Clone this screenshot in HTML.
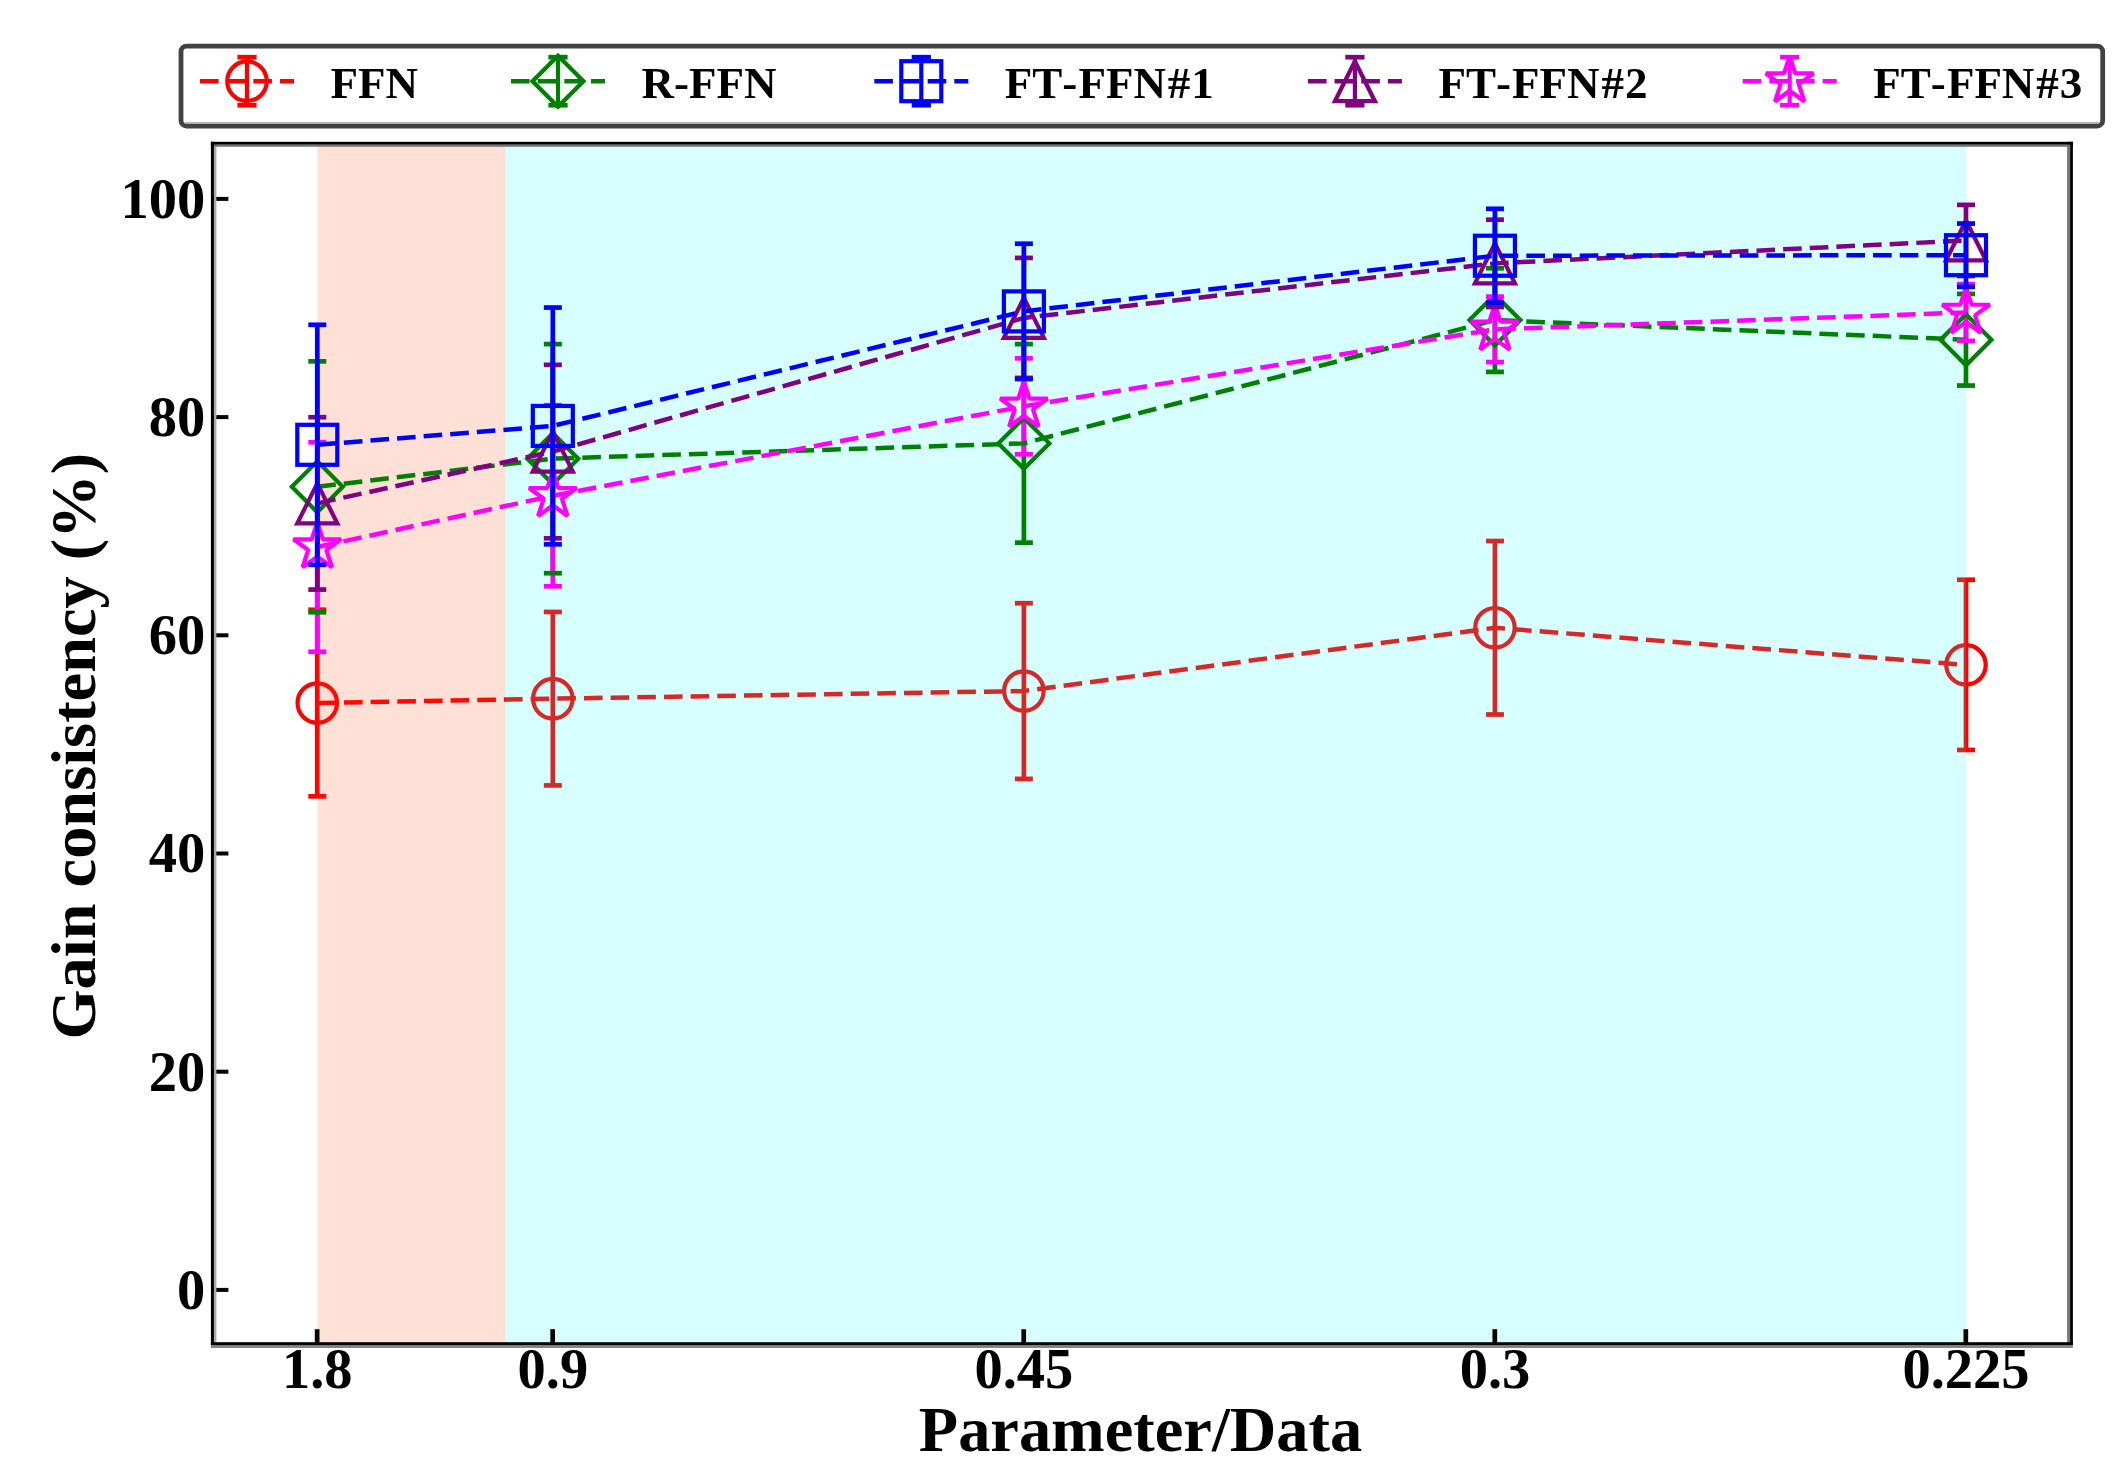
<!DOCTYPE html>
<html lang="en"><head><meta charset="utf-8"><title>Gain consistency vs Parameter/Data</title>
<style>
html,body{margin:0;padding:0;background:#fff;}
body{width:2122px;height:1479px;overflow:hidden;}
svg{display:block;filter:blur(0.6px);}
text{font-kerning:none;}
</style></head><body>
<svg width="2122" height="1479" viewBox="0 0 2122 1479" font-family="'Liberation Serif', 'Times New Roman', serif" font-weight="bold" fill="#000"><rect x="0" y="0" width="2122" height="1479" fill="#fff"/>
<g id="data">
<g stroke="#ff0000" stroke-width="4.7"><line x1="317.3" y1="609.76" x2="317.3" y2="796.32"/><line x1="552.83" y1="611.94" x2="552.83" y2="785.41"/><line x1="1023.88" y1="603.22" x2="1023.88" y2="778.87"/><line x1="1494.94" y1="541.03" x2="1494.94" y2="714.5"/><line x1="1965.99" y1="579.76" x2="1965.99" y2="749.96"/></g><polyline points="317.3,703.04 552.83,698.68 1023.88,691.04 1494.94,627.76 1965.99,664.86" fill="none" stroke="#ff0000" stroke-width="4.5" stroke-dasharray="18.62 8.05"/><circle cx="317.3" cy="703.04" r="19.75" fill="none" stroke="#ff0000" stroke-width="4.2"/><circle cx="552.83" cy="698.68" r="19.75" fill="none" stroke="#ff0000" stroke-width="4.2"/><circle cx="1023.88" cy="691.04" r="19.75" fill="none" stroke="#ff0000" stroke-width="4.2"/><circle cx="1494.94" cy="627.76" r="19.75" fill="none" stroke="#ff0000" stroke-width="4.2"/><circle cx="1965.99" cy="664.86" r="19.75" fill="none" stroke="#ff0000" stroke-width="4.2"/><g stroke="#ff0000" stroke-width="4.7"><line x1="308.3" y1="609.76" x2="326.3" y2="609.76"/><line x1="308.3" y1="796.32" x2="326.3" y2="796.32"/><line x1="543.83" y1="611.94" x2="561.83" y2="611.94"/><line x1="543.83" y1="785.41" x2="561.83" y2="785.41"/><line x1="1014.88" y1="603.22" x2="1032.88" y2="603.22"/><line x1="1014.88" y1="778.87" x2="1032.88" y2="778.87"/><line x1="1485.94" y1="541.03" x2="1503.94" y2="541.03"/><line x1="1485.94" y1="714.5" x2="1503.94" y2="714.5"/><line x1="1956.99" y1="579.76" x2="1974.99" y2="579.76"/><line x1="1956.99" y1="749.96" x2="1974.99" y2="749.96"/></g>
</g>
<rect x="317.3" y="144" width="188.1" height="1200.3" fill="#ff3c00" fill-opacity="0.155"/>
<rect x="505.4" y="144" width="1460.6" height="1200.3" fill="#00ffff" fill-opacity="0.155"/>
<g id="data2">
<g stroke="#008000" stroke-width="4.7"><line x1="317.3" y1="361.34" x2="317.3" y2="612.27"/><line x1="552.83" y1="344.1" x2="552.83" y2="573.21"/><line x1="1023.88" y1="344.1" x2="1023.88" y2="542.66"/><line x1="1494.94" y1="268.28" x2="1494.94" y2="371.92"/><line x1="1965.99" y1="293.92" x2="1965.99" y2="385.56"/></g><g stroke="#ff00ff" stroke-width="4.7"><line x1="317.3" y1="442.29" x2="317.3" y2="651.77"/><line x1="552.83" y1="405.2" x2="552.83" y2="586.3"/><line x1="1023.88" y1="358.29" x2="1023.88" y2="454.29"/><line x1="1494.94" y1="296.64" x2="1494.94" y2="362.1"/><line x1="1965.99" y1="284.1" x2="1965.99" y2="340.83"/></g><g stroke="#800080" stroke-width="4.7"><line x1="317.3" y1="417.2" x2="317.3" y2="589.58"/><line x1="552.83" y1="364.83" x2="552.83" y2="538.3"/><line x1="1023.88" y1="257.91" x2="1023.88" y2="377.92"/><line x1="1494.94" y1="219.73" x2="1494.94" y2="307.01"/><line x1="1965.99" y1="204.89" x2="1965.99" y2="276.02"/></g>
<polyline points="317.3,486.81 552.83,458.66 1023.88,443.38 1494.94,320.1 1965.99,339.74" fill="none" stroke="#008000" stroke-width="4.5" stroke-dasharray="18.62 8.05"/><polygon points="317.3,461.35 342.76,486.81 317.3,512.26 291.84,486.81" fill="none" stroke="#008000" stroke-width="4.2"/><polygon points="552.83,433.2 578.28,458.66 552.83,484.11 527.37,458.66" fill="none" stroke="#008000" stroke-width="4.2"/><polygon points="1023.88,417.93 1049.34,443.38 1023.88,468.84 998.43,443.38" fill="none" stroke="#008000" stroke-width="4.2"/><polygon points="1494.94,294.65 1520.39,320.1 1494.94,345.56 1469.48,320.1" fill="none" stroke="#008000" stroke-width="4.2"/><polygon points="1965.99,314.28 1991.45,339.74 1965.99,365.19 1940.54,339.74" fill="none" stroke="#008000" stroke-width="4.2"/><g stroke="#008000" stroke-width="4.7"><line x1="308.3" y1="361.34" x2="326.3" y2="361.34"/><line x1="308.3" y1="612.27" x2="326.3" y2="612.27"/><line x1="543.83" y1="344.1" x2="561.83" y2="344.1"/><line x1="543.83" y1="573.21" x2="561.83" y2="573.21"/><line x1="1014.88" y1="344.1" x2="1032.88" y2="344.1"/><line x1="1014.88" y1="542.66" x2="1032.88" y2="542.66"/><line x1="1485.94" y1="268.28" x2="1503.94" y2="268.28"/><line x1="1485.94" y1="371.92" x2="1503.94" y2="371.92"/><line x1="1956.99" y1="293.92" x2="1974.99" y2="293.92"/><line x1="1956.99" y1="385.56" x2="1974.99" y2="385.56"/></g>
<polyline points="317.3,547.03 552.83,495.75 1023.88,406.29 1494.94,329.37 1965.99,312.46" fill="none" stroke="#ff00ff" stroke-width="4.5" stroke-dasharray="18.62 8.05"/><polygon points="317.3,522.03 311.69,539.3 293.52,539.3 308.22,549.98 302.61,567.25 317.3,556.58 331.99,567.25 326.38,549.98 341.08,539.3 322.91,539.3" fill="none" stroke="#ff00ff" stroke-width="4.2" stroke-linejoin="bevel"/><polygon points="552.83,470.75 547.21,488.03 529.05,488.03 543.75,498.7 538.13,515.98 552.83,505.3 567.52,515.98 561.91,498.7 576.6,488.03 558.44,488.03" fill="none" stroke="#ff00ff" stroke-width="4.2" stroke-linejoin="bevel"/><polygon points="1023.88,381.29 1018.27,398.56 1000.11,398.56 1014.8,409.24 1009.19,426.52 1023.88,415.84 1038.58,426.52 1032.97,409.24 1047.66,398.56 1029.5,398.56" fill="none" stroke="#ff00ff" stroke-width="4.2" stroke-linejoin="bevel"/><polygon points="1494.94,304.37 1489.33,321.65 1471.16,321.65 1485.86,332.33 1480.24,349.6 1494.94,338.92 1509.63,349.6 1504.02,332.33 1518.72,321.65 1500.55,321.65" fill="none" stroke="#ff00ff" stroke-width="4.2" stroke-linejoin="bevel"/><polygon points="1965.99,287.46 1960.38,304.74 1942.22,304.74 1956.91,315.41 1951.3,332.69 1965.99,322.01 1980.69,332.69 1975.08,315.41 1989.77,304.74 1971.61,304.74" fill="none" stroke="#ff00ff" stroke-width="4.2" stroke-linejoin="bevel"/><g stroke="#ff00ff" stroke-width="4.7"><line x1="308.3" y1="442.29" x2="326.3" y2="442.29"/><line x1="308.3" y1="651.77" x2="326.3" y2="651.77"/><line x1="543.83" y1="405.2" x2="561.83" y2="405.2"/><line x1="543.83" y1="586.3" x2="561.83" y2="586.3"/><line x1="1014.88" y1="358.29" x2="1032.88" y2="358.29"/><line x1="1014.88" y1="454.29" x2="1032.88" y2="454.29"/><line x1="1485.94" y1="296.64" x2="1503.94" y2="296.64"/><line x1="1485.94" y1="362.1" x2="1503.94" y2="362.1"/><line x1="1956.99" y1="284.1" x2="1974.99" y2="284.1"/><line x1="1956.99" y1="340.83" x2="1974.99" y2="340.83"/></g>
<polyline points="317.3,503.39 552.83,451.57 1023.88,317.92 1494.94,263.37 1965.99,240.46" fill="none" stroke="#800080" stroke-width="4.5" stroke-dasharray="18.62 8.05"/><polygon points="317.3,483.39 297.3,523.39 337.3,523.39" fill="none" stroke="#800080" stroke-width="4.2"/><polygon points="552.83,431.57 532.83,471.57 572.83,471.57" fill="none" stroke="#800080" stroke-width="4.2"/><polygon points="1023.88,297.92 1003.88,337.92 1043.88,337.92" fill="none" stroke="#800080" stroke-width="4.2"/><polygon points="1494.94,243.37 1474.94,283.37 1514.94,283.37" fill="none" stroke="#800080" stroke-width="4.2"/><polygon points="1965.99,220.46 1945.99,260.46 1985.99,260.46" fill="none" stroke="#800080" stroke-width="4.2"/><g stroke="#800080" stroke-width="4.7"><line x1="308.3" y1="417.2" x2="326.3" y2="417.2"/><line x1="308.3" y1="589.58" x2="326.3" y2="589.58"/><line x1="543.83" y1="364.83" x2="561.83" y2="364.83"/><line x1="543.83" y1="538.3" x2="561.83" y2="538.3"/><line x1="1014.88" y1="257.91" x2="1032.88" y2="257.91"/><line x1="1014.88" y1="377.92" x2="1032.88" y2="377.92"/><line x1="1485.94" y1="219.73" x2="1503.94" y2="219.73"/><line x1="1485.94" y1="307.01" x2="1503.94" y2="307.01"/><line x1="1956.99" y1="204.89" x2="1974.99" y2="204.89"/><line x1="1956.99" y1="276.02" x2="1974.99" y2="276.02"/></g>
<g stroke="#0000ff" stroke-width="4.7"><line x1="317.3" y1="324.79" x2="317.3" y2="564.81"/><line x1="552.83" y1="307.55" x2="552.83" y2="544.3"/><line x1="1023.88" y1="243.73" x2="1023.88" y2="379.01"/><line x1="1494.94" y1="208.82" x2="1494.94" y2="302.64"/><line x1="1965.99" y1="223.55" x2="1965.99" y2="286.83"/></g><polyline points="317.3,444.8 552.83,425.93 1023.88,311.37 1494.94,255.73 1965.99,255.19" fill="none" stroke="#0000ff" stroke-width="4.5" stroke-dasharray="18.62 8.05"/><rect x="297.3" y="424.8" width="40" height="40" fill="none" stroke="#0000ff" stroke-width="4.2"/><rect x="532.83" y="405.93" width="40" height="40" fill="none" stroke="#0000ff" stroke-width="4.2"/><rect x="1003.88" y="291.37" width="40" height="40" fill="none" stroke="#0000ff" stroke-width="4.2"/><rect x="1474.94" y="235.73" width="40" height="40" fill="none" stroke="#0000ff" stroke-width="4.2"/><rect x="1945.99" y="235.19" width="40" height="40" fill="none" stroke="#0000ff" stroke-width="4.2"/><g stroke="#0000ff" stroke-width="4.7"><line x1="308.3" y1="324.79" x2="326.3" y2="324.79"/><line x1="308.3" y1="564.81" x2="326.3" y2="564.81"/><line x1="543.83" y1="307.55" x2="561.83" y2="307.55"/><line x1="543.83" y1="544.3" x2="561.83" y2="544.3"/><line x1="1014.88" y1="243.73" x2="1032.88" y2="243.73"/><line x1="1014.88" y1="379.01" x2="1032.88" y2="379.01"/><line x1="1485.94" y1="208.82" x2="1503.94" y2="208.82"/><line x1="1485.94" y1="302.64" x2="1503.94" y2="302.64"/><line x1="1956.99" y1="223.55" x2="1974.99" y2="223.55"/><line x1="1956.99" y1="286.83" x2="1974.99" y2="286.83"/></g>
</g>
<g fill="#000"><rect x="314.8" y="1329.2" width="4.7" height="14"/><rect x="550.33" y="1329.2" width="4.7" height="14"/><rect x="1021.38" y="1329.2" width="4.7" height="14"/><rect x="1492.44" y="1329.2" width="4.7" height="14"/><rect x="1963.49" y="1329.2" width="4.7" height="14"/><rect x="213" y="1287.9" width="15.4" height="4"/><rect x="213" y="1069.7" width="15.4" height="4"/><rect x="213" y="851.5" width="15.4" height="4"/><rect x="213" y="633.3" width="15.4" height="4"/><rect x="213" y="415.1" width="15.4" height="4"/><rect x="213" y="196.9" width="15.4" height="4"/></g>
<rect x="213.9" y="141.8" width="2.5" height="1206.1" fill="#aaa"/><rect x="210.9" y="144.6" width="1862" height="2.2" fill="#777"/><rect x="2067.1" y="141.8" width="3" height="1206.1" fill="#777"/><rect x="210.9" y="1345" width="1862" height="2.9" fill="#808080"/><rect x="210.9" y="141.8" width="3" height="1203.2" fill="#000"/><rect x="210.9" y="141.8" width="1862" height="2.8" fill="#000"/><rect x="2070.1" y="141.8" width="2.8" height="1203.2" fill="#000"/><rect x="210.9" y="1342.2" width="1862" height="2.8" fill="#000"/>
<g font-size="56.5"><text x="317.3" y="1387.6" text-anchor="middle">1.8</text><text x="552.83" y="1387.6" text-anchor="middle">0.9</text><text x="1023.88" y="1387.6" text-anchor="middle">0.45</text><text x="1494.94" y="1387.6" text-anchor="middle">0.3</text><text x="1965.99" y="1387.6" text-anchor="middle">0.225</text><text x="205.3" y="1308.8" text-anchor="end">0</text><text x="205.3" y="1090.6" text-anchor="end">20</text><text x="205.3" y="872.4" text-anchor="end">40</text><text x="205.3" y="654.2" text-anchor="end">60</text><text x="205.3" y="436" text-anchor="end">80</text><text x="205.3" y="217.8" text-anchor="end">100</text></g>
<text x="1140.5" y="1450.6" font-size="64.4" text-anchor="middle">Parameter/Data</text>
<text transform="translate(94.8,746.2) rotate(-90)" font-size="64.4" text-anchor="middle">Gain consistency (%)</text>
<rect x="181" y="46.1" width="1921.7" height="79.9" rx="5.5" ry="5.5" fill="#fff" stroke="#424242" stroke-width="4.8"/><rect x="185" y="121.9" width="1913.7" height="1.6" fill="#b8b8b8"/>
<line x1="200" y1="81.2" x2="294" y2="81.2" stroke="#ff0000" stroke-width="4.5" stroke-dasharray="18.62 8.05"/><line x1="247" y1="57.2" x2="247" y2="105.2" stroke="#ff0000" stroke-width="4.2"/><line x1="237.4" y1="57.2" x2="256.6" y2="57.2" stroke="#ff0000" stroke-width="4.7"/><line x1="237.4" y1="105.2" x2="256.6" y2="105.2" stroke="#ff0000" stroke-width="4.7"/><circle cx="247" cy="81.2" r="19.75" fill="none" stroke="#ff0000" stroke-width="4.2"/><text x="330.5" y="97.7" font-size="45">FFN</text>
<line x1="511" y1="81.2" x2="605" y2="81.2" stroke="#008000" stroke-width="4.5" stroke-dasharray="18.62 8.05"/><line x1="558" y1="57.2" x2="558" y2="105.2" stroke="#008000" stroke-width="4.2"/><line x1="548.4" y1="57.2" x2="567.6" y2="57.2" stroke="#008000" stroke-width="4.7"/><line x1="548.4" y1="105.2" x2="567.6" y2="105.2" stroke="#008000" stroke-width="4.7"/><polygon points="558,55.74 583.46,81.2 558,106.66 532.54,81.2" fill="none" stroke="#008000" stroke-width="4.2"/><text x="641.5" y="97.7" font-size="45">R-FFN</text>
<line x1="874.3" y1="81.2" x2="968.3" y2="81.2" stroke="#0000ff" stroke-width="4.5" stroke-dasharray="18.62 8.05"/><line x1="921.3" y1="57.2" x2="921.3" y2="105.2" stroke="#0000ff" stroke-width="4.2"/><line x1="911.7" y1="57.2" x2="930.9" y2="57.2" stroke="#0000ff" stroke-width="4.7"/><line x1="911.7" y1="105.2" x2="930.9" y2="105.2" stroke="#0000ff" stroke-width="4.7"/><rect x="901.3" y="61.2" width="40" height="40" fill="none" stroke="#0000ff" stroke-width="4.2"/><text x="1004.8" y="97.7" font-size="45">FT-<tspan dx="1.2">FFN</tspan><tspan dx="1.8">#</tspan><tspan dx="1">1</tspan></text>
<line x1="1307.9" y1="81.2" x2="1401.9" y2="81.2" stroke="#800080" stroke-width="4.5" stroke-dasharray="18.62 8.05"/><line x1="1354.9" y1="57.2" x2="1354.9" y2="105.2" stroke="#800080" stroke-width="4.2"/><line x1="1345.3" y1="57.2" x2="1364.5" y2="57.2" stroke="#800080" stroke-width="4.7"/><line x1="1345.3" y1="105.2" x2="1364.5" y2="105.2" stroke="#800080" stroke-width="4.7"/><polygon points="1354.9,61.2 1334.9,101.2 1374.9,101.2" fill="none" stroke="#800080" stroke-width="4.2"/><text x="1438.4" y="97.7" font-size="45">FT-<tspan dx="1.2">FFN</tspan><tspan dx="1.8">#</tspan><tspan dx="1">2</tspan></text>
<line x1="1742.7" y1="81.2" x2="1836.7" y2="81.2" stroke="#ff00ff" stroke-width="4.5" stroke-dasharray="18.62 8.05"/><line x1="1789.7" y1="57.2" x2="1789.7" y2="105.2" stroke="#ff00ff" stroke-width="4.2"/><line x1="1780.1" y1="57.2" x2="1799.3" y2="57.2" stroke="#ff00ff" stroke-width="4.7"/><line x1="1780.1" y1="105.2" x2="1799.3" y2="105.2" stroke="#ff00ff" stroke-width="4.7"/><polygon points="1789.7,56.2 1784.09,73.47 1765.92,73.47 1780.62,84.15 1775.01,101.43 1789.7,90.75 1804.39,101.43 1798.78,84.15 1813.48,73.47 1795.31,73.47" fill="none" stroke="#ff00ff" stroke-width="4.2" stroke-linejoin="bevel"/><text x="1873.2" y="97.7" font-size="45">FT-<tspan dx="1.2">FFN</tspan><tspan dx="1.8">#</tspan><tspan dx="1">3</tspan></text></svg>
</body></html>
